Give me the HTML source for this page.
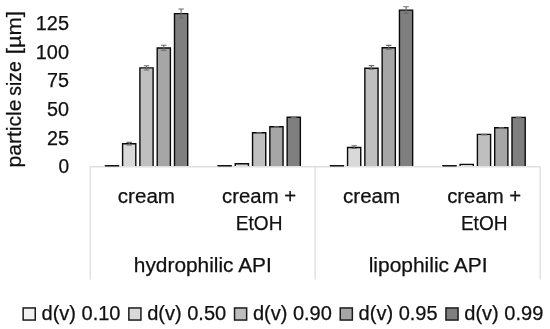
<!DOCTYPE html>
<html><head><meta charset="utf-8"><title>particle size chart</title>
<style>
html,body{margin:0;padding:0;background:#fff;overflow:hidden;}
svg{display:block;filter:blur(0.4px);}
text{font-family:"Liberation Sans",sans-serif;fill:#111;stroke:#111;stroke-width:0.25px;}
</style></head><body>
<svg width="550" height="329" viewBox="0 0 550 329">
<rect width="550" height="329" fill="#fff"/>

<g stroke="#0a0a0a" stroke-width="1.4">
<path d="M105.30 166.80V165.95h13.20V166.80" fill="#f2f2f2"/>
<path d="M122.60 166.80V143.80h13.20V166.80" fill="#d9d9d9"/>
<path d="M139.90 166.80V67.90h13.20V166.80" fill="#bfbfbf"/>
<path d="M157.20 166.80V47.95h13.20V166.80" fill="#a6a6a6"/>
<path d="M174.50 166.80V13.60h13.20V166.80" fill="#7f7f7f"/>
<path d="M217.95 166.80V165.95h13.20V166.80" fill="#f2f2f2"/>
<path d="M235.25 166.80V163.80h13.20V166.80" fill="#d9d9d9"/>
<path d="M252.55 166.80V132.80h13.20V166.80" fill="#bfbfbf"/>
<path d="M269.85 166.80V126.70h13.20V166.80" fill="#a6a6a6"/>
<path d="M287.15 166.80V117.30h13.20V166.80" fill="#7f7f7f"/>
<path d="M330.25 166.80V165.95h13.20V166.80" fill="#f2f2f2"/>
<path d="M347.55 166.80V147.50h13.20V166.80" fill="#d9d9d9"/>
<path d="M364.85 166.80V68.20h13.20V166.80" fill="#bfbfbf"/>
<path d="M382.15 166.80V47.80h13.20V166.80" fill="#a6a6a6"/>
<path d="M399.45 166.80V10.10h13.20V166.80" fill="#7f7f7f"/>
<path d="M442.80 166.80V165.95h13.20V166.80" fill="#f2f2f2"/>
<path d="M460.10 166.80V164.40h13.20V166.80" fill="#d9d9d9"/>
<path d="M477.40 166.80V134.40h13.20V166.80" fill="#bfbfbf"/>
<path d="M494.70 166.80V127.80h13.20V166.80" fill="#a6a6a6"/>
<path d="M512.00 166.80V117.40h13.20V166.80" fill="#7f7f7f"/>
</g>
<g stroke="#6a6a6a" stroke-width="1.1" fill="none">
<path d="M129.20 142.40V145.00M126.50 142.40h5.4M126.50 145.00h5.4"/>
<path d="M146.50 65.70V70.00M143.80 65.70h5.4M143.80 70.00h5.4"/>
<path d="M163.80 45.20V50.30M161.10 45.20h5.4M161.10 50.30h5.4"/>
<path d="M181.10 9.00V18.00M178.40 9.00h5.4M178.40 18.00h5.4"/>
<path d="M259.15 132.90V133.40M256.45 132.90h5.4M256.45 133.40h5.4"/>
<path d="M276.45 126.70V127.20M273.75 126.70h5.4M273.75 127.20h5.4"/>
<path d="M293.75 117.40V117.90M291.05 117.40h5.4M291.05 117.90h5.4"/>
<path d="M354.15 145.70V148.50M351.45 145.70h5.4M351.45 148.50h5.4"/>
<path d="M371.45 65.60V69.20M368.75 65.60h5.4M368.75 69.20h5.4"/>
<path d="M388.75 45.40V49.30M386.05 45.40h5.4M386.05 49.30h5.4"/>
<path d="M406.05 6.80V13.40M403.35 6.80h5.4M403.35 13.40h5.4"/>
<path d="M484.00 134.40V134.90M481.30 134.40h5.4M481.30 134.90h5.4"/>
<path d="M501.30 127.80V128.30M498.60 127.80h5.4M498.60 128.30h5.4"/>
<path d="M518.60 117.40V117.90M515.90 117.40h5.4M515.90 117.90h5.4"/>
</g>
<g stroke="#e0e0e0" stroke-width="1.4" fill="none">
<path d="M89.65 166.8H540.85M90.3 166.8V279.4M315.1 166.8V279.4M540.2 166.8V279.4"/>
</g>
<g stroke="#0a0a0a" stroke-width="1.3" fill="none">
<path d="M105.10 165.85h14.00"/>
<path d="M217.75 165.85h14.00"/>
<path d="M330.05 165.85h14.00"/>
<path d="M442.60 165.85h14.00"/>
</g>
<g font-size="19.4" text-anchor="end">
<text x="69.0" y="30.0" textLength="33.2" lengthAdjust="spacingAndGlyphs">125</text>
<text x="69.0" y="58.7" textLength="33.2" lengthAdjust="spacingAndGlyphs">100</text>
<text x="69.0" y="87.4" textLength="22.0" lengthAdjust="spacingAndGlyphs">75</text>
<text x="69.0" y="116.0" textLength="22.0" lengthAdjust="spacingAndGlyphs">50</text>
<text x="69.0" y="144.7" textLength="22.0" lengthAdjust="spacingAndGlyphs">25</text>
<text x="69.0" y="173.4" textLength="10.6" lengthAdjust="spacingAndGlyphs">0</text>
</g>
<g transform="translate(20.7 167.2) rotate(-90)" font-size="20">
<text x="-0.3" y="0" textLength="68.0" lengthAdjust="spacingAndGlyphs">particle</text>
<text x="71.5" y="0" textLength="34.4" lengthAdjust="spacingAndGlyphs">size</text>
<text x="113.0" y="0" textLength="43.0" lengthAdjust="spacingAndGlyphs">[µm]</text>
</g>
<g font-size="20" text-anchor="middle">
<text x="146.4" y="203" textLength="57.2" lengthAdjust="spacingAndGlyphs">cream</text>
<text x="259.1" y="203" textLength="74.0" lengthAdjust="spacingAndGlyphs">cream +</text>
<text x="259.1" y="230.2" textLength="46.6" lengthAdjust="spacingAndGlyphs">EtOH</text>
<text x="371.6" y="203" textLength="57.2" lengthAdjust="spacingAndGlyphs">cream</text>
<text x="484.2" y="203" textLength="74.0" lengthAdjust="spacingAndGlyphs">cream +</text>
<text x="484.2" y="230.2" textLength="46.6" lengthAdjust="spacingAndGlyphs">EtOH</text>
<text x="202.8" y="272.4" textLength="138.0" lengthAdjust="spacingAndGlyphs">hydrophilic API</text>
<text x="428.1" y="272.4" textLength="118.8" lengthAdjust="spacingAndGlyphs">lipophilic API</text>
</g>
<g font-size="20">
<rect x="23.15" y="307.95" width="12.1" height="12.1" fill="#f2f2f2" stroke="#1c1c1c" stroke-width="1.5"/>
<text x="41.50" y="320.2" textLength="79.0" lengthAdjust="spacingAndGlyphs">d(v) 0.10</text>
<rect x="128.85" y="307.95" width="12.1" height="12.1" fill="#d9d9d9" stroke="#1c1c1c" stroke-width="1.5"/>
<text x="147.20" y="320.2" textLength="79.0" lengthAdjust="spacingAndGlyphs">d(v) 0.50</text>
<rect x="234.55" y="307.95" width="12.1" height="12.1" fill="#bfbfbf" stroke="#1c1c1c" stroke-width="1.5"/>
<text x="252.90" y="320.2" textLength="79.0" lengthAdjust="spacingAndGlyphs">d(v) 0.90</text>
<rect x="340.25" y="307.95" width="12.1" height="12.1" fill="#a6a6a6" stroke="#1c1c1c" stroke-width="1.5"/>
<text x="358.60" y="320.2" textLength="79.0" lengthAdjust="spacingAndGlyphs">d(v) 0.95</text>
<rect x="445.95" y="307.95" width="12.1" height="12.1" fill="#7f7f7f" stroke="#1c1c1c" stroke-width="1.5"/>
<text x="464.30" y="320.2" textLength="79.0" lengthAdjust="spacingAndGlyphs">d(v) 0.99</text>
</g>
</svg></body></html>
